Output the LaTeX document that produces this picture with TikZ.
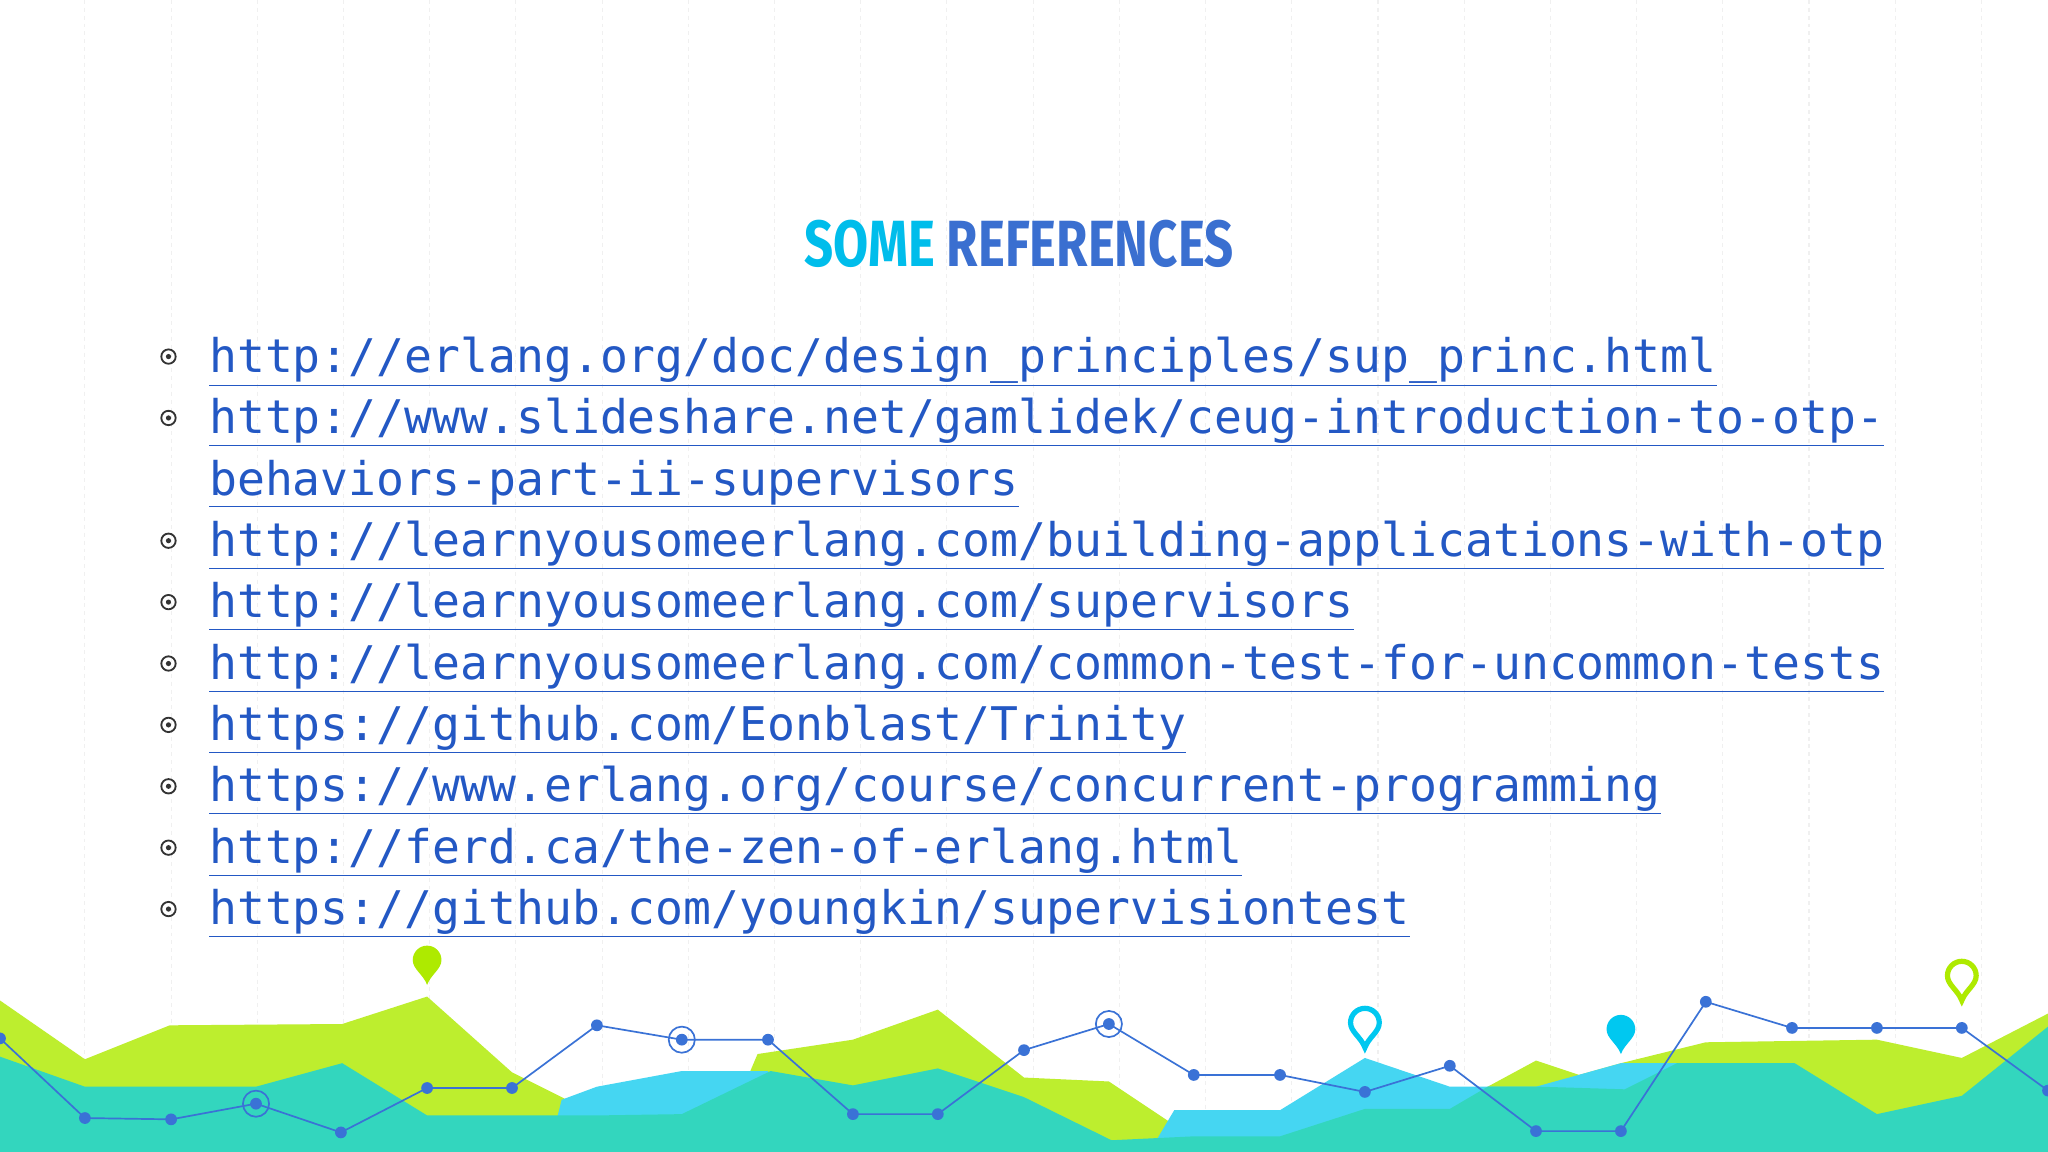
\documentclass[tikz,border=0pt]{standalone}
\usepackage{fontspec}
\setmonofont{DejaVu Sans Mono}
\setsansfont{Fira Sans}
\begin{document}
\begin{tikzpicture}[x=1pt,y=-1pt,
  link/.style={anchor=base west,inner sep=0pt,font=\ttfamily\fontsize{35.5}{40}\selectfont,text=linkblue},
  dot/.style={circle,fill=lineblue,inner sep=0pt,minimum size=9pt},
  ring/.style={circle,draw=lineblue,line width=1.3pt,inner sep=0pt,minimum size=20pt}]
\definecolor{linkblue}{HTML}{2358C4}
\definecolor{lineblue}{HTML}{3A72D6}
\definecolor{lime}{HTML}{BDEE2E}
\definecolor{sky}{HTML}{45D6F2}
\definecolor{teal}{HTML}{33D6BE}
\definecolor{titlecyan}{HTML}{00BDEB}
\definecolor{titleblue}{HTML}{3A6FD0}
\definecolor{pinlime}{HTML}{AEEA00}
\definecolor{pincyan}{HTML}{00C8F0}
\useasboundingbox (0,0) rectangle (1568,882);
\fill[white] (0,0) rectangle (1568,882);
\foreach \x in {65,131,...,1568} \draw[black!6,dashed,line width=0.8pt] (\x,0) -- (\x,882);
% layers
\fill[lime] (0,766)--(65,811)--(130,785)--(262,784)--(327,763)--(392,821)--(430,840)--(457,854)--(560,854)--(580,807)--(653,796)--(718,773)--(784,825)--(849,828)--(894,858)--(914,882)--(0,882)--cycle;
\fill[lime] (1139,832)--(1176,812)--(1209,823)--(1241,814)--(1306,798)--(1437,796)--(1502,810)--(1568,776)--(1568,882)--(1139,882)--cycle;
\fill[sky] (420,882)--(430,842)--(457,832)--(522,820)--(588,820)--(600,882)--cycle;
\fill[sky] (880,882)--(899,850)--(980,850)--(1045,810)--(1110,832)--(1176,832)--(1241,814)--(1290,814)--(1290,882)--cycle;
\fill[teal] (0,809)--(65,832)--(196,832)--(262,814)--(327,854)--(457,854)--(522,853)--(590,820)--(653,831)--(718,818)--(784,840)--(851,873)--(914,870)--(980,870)--(1045,849)--(1110,849)--(1139,832)--(1179,832)--(1244,834)--(1284,814)--(1374,814)--(1437,853)--(1502,839)--(1568,786)--(1568,882)--(0,882)--cycle;
% line chart
\foreach \i/\x/\y in {0/0/795,1/65/856,2/131/857,3/196/845,4/261/867,5/327/833,6/392/833,7/457/785,8/522/796,9/588/796,10/653/853,11/718/853,12/784/804,13/849/784,14/914/823,15/980/823,16/1045/836,17/1110/816,18/1176/866,19/1241/866,20/1306/767,21/1372/787,22/1437/787,23/1502/787,24/1568/835}
  \node[dot] (p\i) at (\x,\y) {};
\draw[lineblue,line width=1.3pt] (p0.center)--(p1.center)--(p2.center)--(p3.center)--(p4.center)--(p5.center)--(p6.center)--(p7.center)--(p8.center)--(p9.center)--(p10.center)--(p11.center)--(p12.center)--(p13.center)--(p14.center)--(p15.center)--(p16.center)--(p17.center)--(p18.center)--(p19.center)--(p20.center)--(p21.center)--(p22.center)--(p23.center)--(p24.center);
\node[ring] at (p3) {};\node[ring] at (p8) {};\node[ring] at (p13) {};
% pins
\newcommand\pinshape[2]{ (#1,#2+14) .. controls (#1-3,#2+6) and (#1-11,#2+2) .. (#1-11,#2-5) arc[start angle=180,end angle=360,radius=11] .. controls (#1+11,#2+2) and (#1+3,#2+6) .. (#1,#2+14) }
\fill[pinlime] \pinshape{327}{740} -- cycle;
\draw[pincyan,line width=4pt] \pinshape{1045}{788} -- cycle;
\fill[pincyan] \pinshape{1241}{793} -- cycle;
\draw[pinlime,line width=4pt] \pinshape{1502}{752} -- cycle;
% title
\node (title) at (780,187) {\scalebox{0.78}[1]{\sffamily\bfseries\fontsize{50}{56}\selectfont\color{titlecyan}SOME \color{titleblue}REFERENCES}};
% links
\foreach \n/\y/\t in {
 1/285/{http://erlang.org/doc/design\_principles/sup\_princ.html},
 2/332/{http://www.slideshare.net/gamlidek/ceug-introduction-to-otp-},
 3/379/{behaviors-part-ii-supervisors},
 4/426/{http://learnyousomeerlang.com/building-applications-with-otp},
 5/473/{http://learnyousomeerlang.com/supervisors},
 6/520/{http://learnyousomeerlang.com/common-test-for-uncommon-tests},
 7/567/{https://github.com/Eonblast/Trinity},
 8/614/{https://www.erlang.org/course/concurrent-programming},
 9/661/{http://ferd.ca/the-zen-of-erlang.html},
 10/708/{https://github.com/youngkin/supervisiontest}}
 \node[link] (l\n) at (160,\y) {\underline{\t}};
\foreach \y in {273,320,414,461,508,555,602,649,696}{
 \draw[black!80,line width=1.4pt] (129,\y) circle (5.5pt);
 \fill[black!80] (129,\y) circle (2pt);}
\end{tikzpicture}
\end{document}
